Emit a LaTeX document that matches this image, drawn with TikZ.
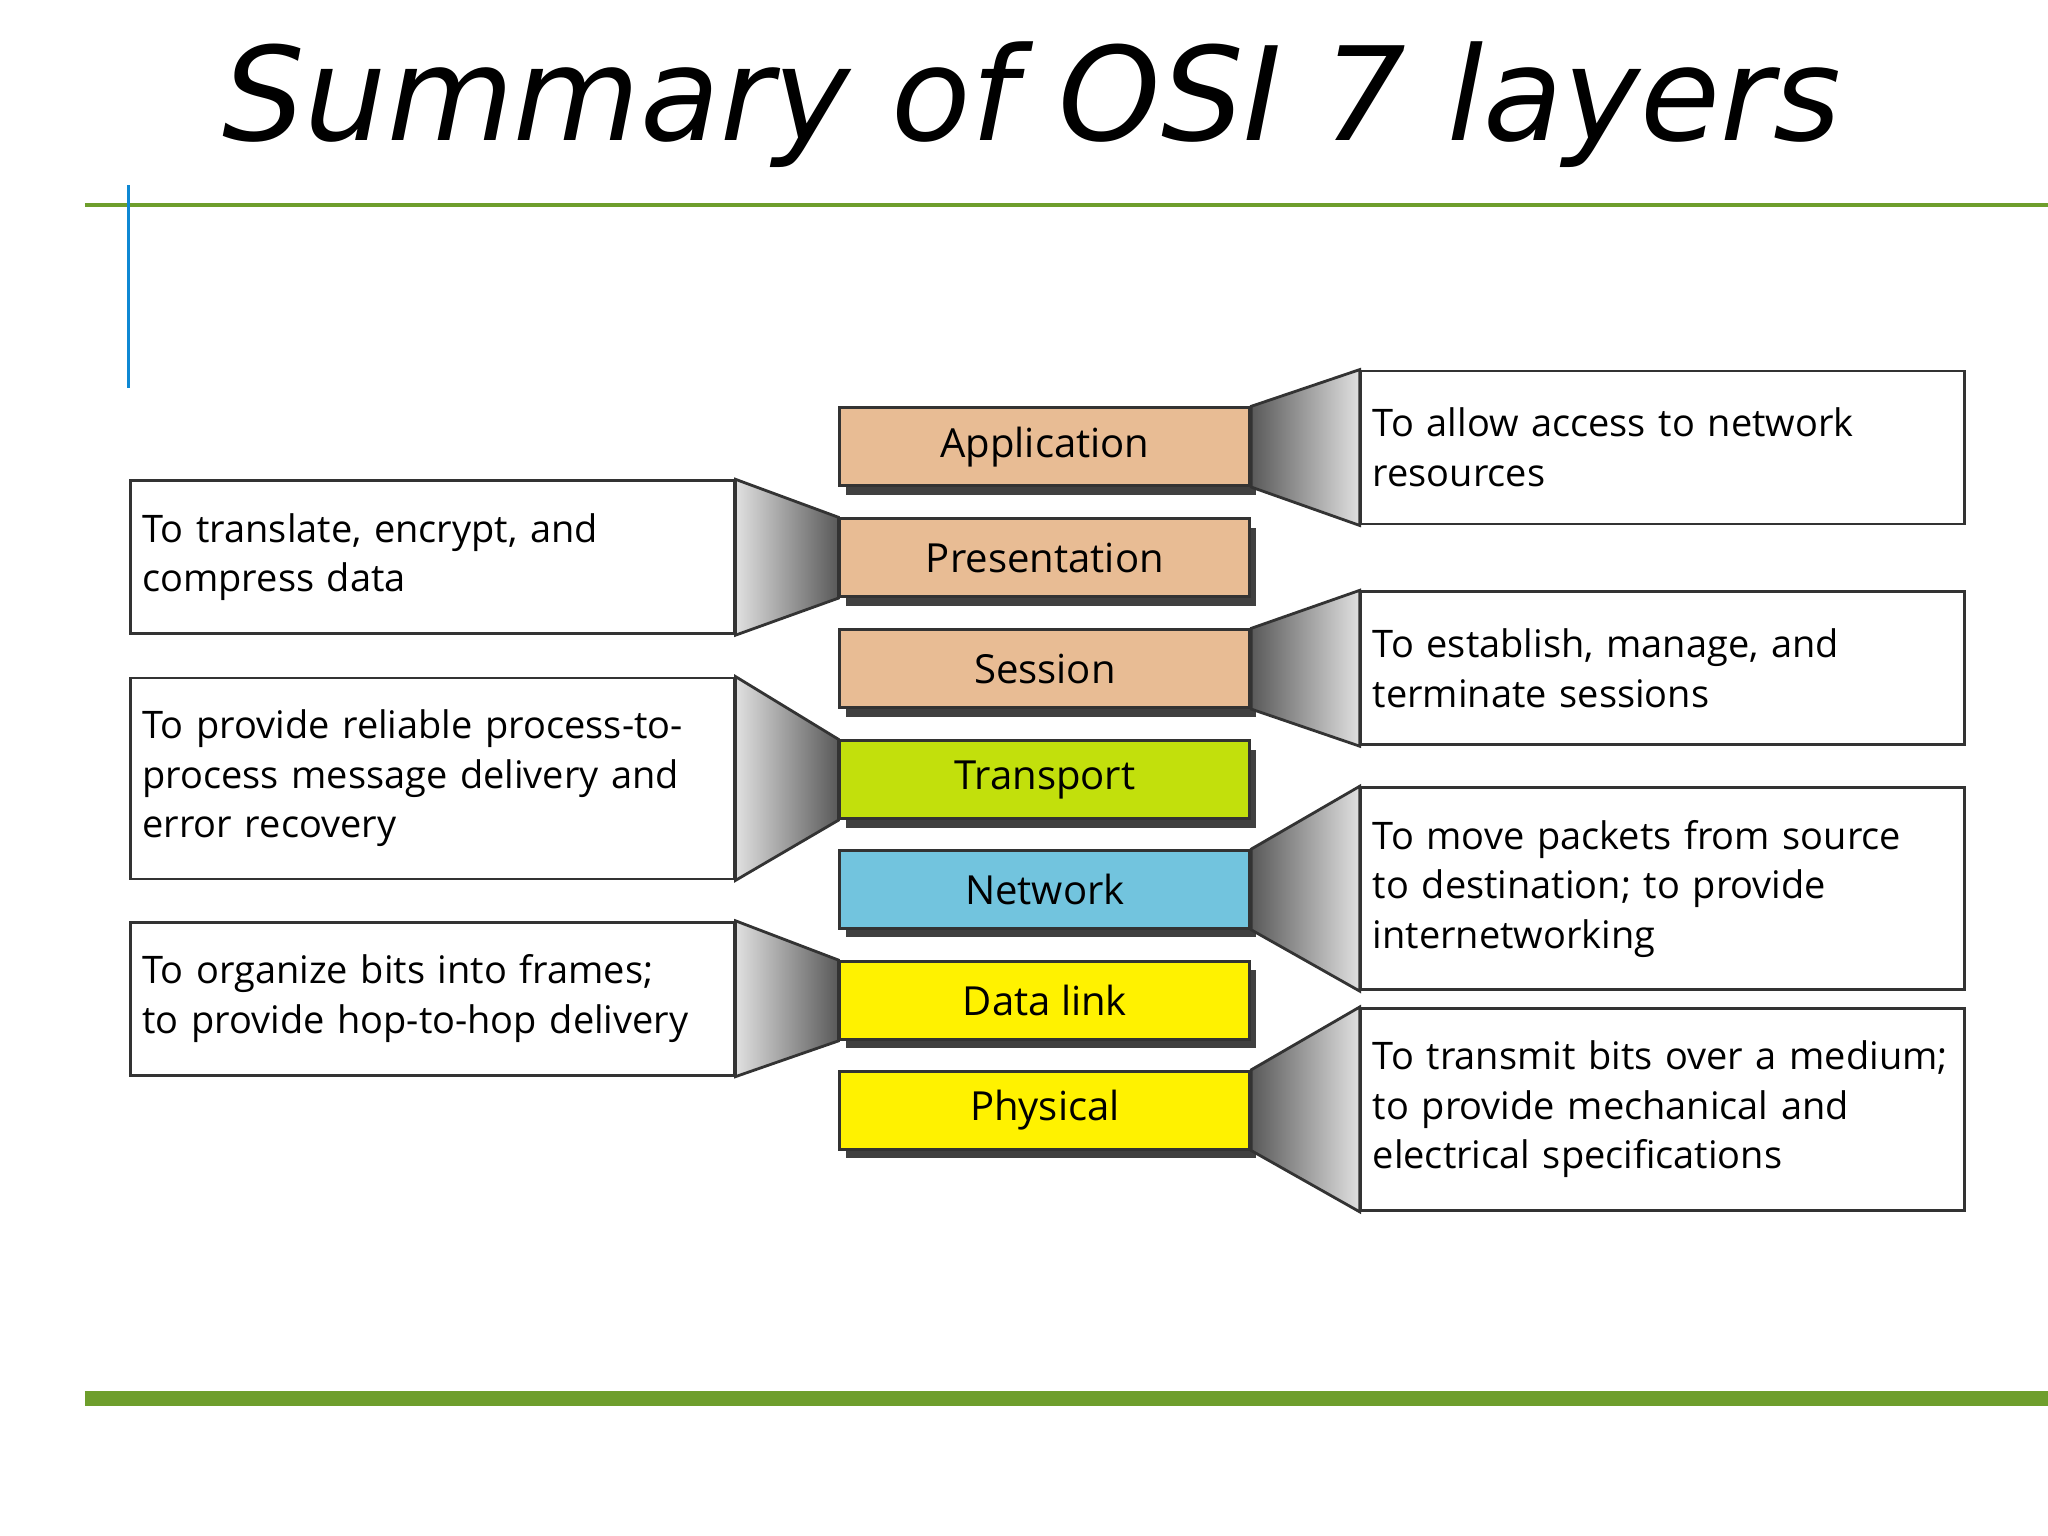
\documentclass[tikz,border=0pt]{standalone}
\usepackage{fontspec}
\usetikzlibrary{shadows}
\setmainfont{Open Sans}
\newfontfamily\titlefont{DejaVu Sans}
\definecolor{tan}{HTML}{E8BC94}
\definecolor{lime}{HTML}{C2E00C}
\definecolor{sky}{HTML}{72C4DE}
\definecolor{lemon}{HTML}{FFF200}
\definecolor{rule}{HTML}{6E9E2C}
\begin{document}
\begin{tikzpicture}[x=0.01306cm, y=-0.01306cm]
  \tikzstyle{layer} = [rectangle, draw=black!80, thick, minimum width=4.1cm, minimum height=0.78cm,
                       font=\fontsize{11.4}{14}\selectfont, inner sep=0pt,
                       drop shadow={shadow xshift=0.06cm, shadow yshift=-0.09cm, fill=black!75, opacity=1}]
  \tikzstyle{desc} = [rectangle, draw=black!80, thick, minimum width=6.0cm, text width=5.8cm,
                      align=left, font=\fontsize{10.8}{14.1}\selectfont, anchor=north west]
  \tikzstyle{lfunnel} = [draw=black!80, thick, left color=black!12, right color=black!65]
  \tikzstyle{rfunnel} = [draw=black!80, thick, left color=black!65, right color=black!12]
\useasboundingbox (0,0) rectangle (1568,1176);
\fill[white] (0,0) rectangle (1568,1176);
% title and rules
\node[font=\titlefont\itshape\fontsize{37}{44}\selectfont](title) at (790,80){Summary of OSI 7 layers};
\draw[rule, line width=0.04cm] (65,157) -- (1568,157);
\draw[rule, line width=0.15cm] (65,1071) -- (1568,1071);
\draw[cyan!70!blue, line width=0.03cm] (98,142) -- (98,297);
% layers
\node[layer, fill=tan](app) at (800,342){Application};
\node[layer, fill=tan](pre) at (800,427){Presentation};
\node[layer, fill=tan](ses) at (800,512){Session};
\node[layer, fill=lime](tra) at (800,597){Transport};
\node[layer, fill=sky](net) at (800,681){Network};
\node[layer, fill=lemon](dat) at (800,766){Data link};
\node[layer, fill=lemon](phy) at (800,850){Physical};
% descriptions
\node[desc, minimum height=1.53cm](dapp) at (1041,283){To allow access to network\\resources\\[0.3cm]};
\node[desc, minimum height=1.53cm](dses) at (1041,452){To establish, manage, and\\terminate sessions\\[0.3cm]};
\node[desc, minimum height=2.02cm](dnet) at (1041,602){To move packets from source\\to destination; to provide\\internetworking\\[0.2cm]};
\node[desc, minimum height=2.02cm](dphy) at (1041,771){To transmit bits over a medium;\\to provide mechanical and\\electrical specifications\\[0.2cm]};
\node[desc, minimum height=1.53cm, minimum width=5.92cm](dpre) at (99,367){To translate, encrypt, and\\compress data\\[0.3cm]};
\node[desc, minimum height=2.01cm, minimum width=5.92cm](dtra) at (99,518){To provide reliable process-to-\\process message delivery and\\error recovery\\[0.2cm]};
\node[desc, minimum height=1.53cm, minimum width=5.92cm](ddat) at (99,705){To organize bits into frames;\\to provide hop-to-hop delivery\\[0.3cm]};
% funnels
\foreach \l/\d in {app/dapp, ses/dses, net/dnet, phy/dphy}
  \draw[rfunnel] (\l.north east) -- (\d.north west) -- (\d.south west) -- (\l.south east) -- cycle;
\foreach \l/\d in {pre/dpre, tra/dtra, dat/ddat}
  \draw[lfunnel] (\d.north east) -- (\l.north west) -- (\l.south west) -- (\d.south east) -- cycle;
\end{tikzpicture}
\end{document}
